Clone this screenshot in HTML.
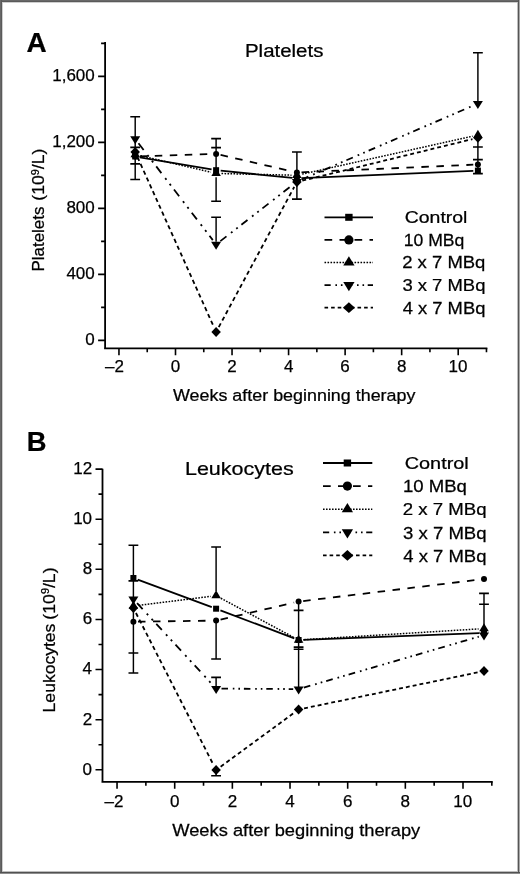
<!DOCTYPE html>
<html><head><meta charset="utf-8"><title>Platelets and Leukocytes</title>
<style>html,body{margin:0;padding:0;background:#fff;}svg{display:block;}</style>
</head><body>
<svg width="520" height="874" viewBox="0 0 520 874" font-family='"Liberation Sans", Arial, Helvetica, sans-serif' fill="#000"><style>text{stroke:#000;stroke-width:0.25px;}</style>
<rect x="0" y="0" width="520" height="874" fill="#fff"/>
<path d="M105.1 42V349.3M104.1 348.3H487.37" fill="none" stroke="#000" stroke-width="1.8"/>
<path d="M98.10 340.40H105.1 M101.10 307.40H105.1 M98.10 274.40H105.1 M101.10 241.40H105.1 M98.10 208.40H105.1 M101.10 175.40H105.1 M98.10 142.40H105.1 M101.10 109.40H105.1 M98.10 76.40H105.1 M101.10 43.40H105.1 M118.96 348.3V355.30 M147.23 348.3V352.30 M175.50 348.3V355.30 M203.77 348.3V352.30 M232.04 348.3V355.30 M260.31 348.3V352.30 M288.58 348.3V355.30 M316.85 348.3V352.30 M345.12 348.3V355.30 M373.39 348.3V352.30 M401.66 348.3V355.30 M429.93 348.3V352.30 M458.20 348.3V355.30 M486.47 348.3V352.30" fill="none" stroke="#000" stroke-width="1.6"/>
<text transform="translate(85.30 345.30) scale(1.0000 1)" font-size="17" text-anchor="start" font-weight="normal">0</text>
<text transform="translate(66.40 279.30) scale(1.0000 1)" font-size="17" text-anchor="start" font-weight="normal">400</text>
<text transform="translate(66.40 213.30) scale(1.0000 1)" font-size="17" text-anchor="start" font-weight="normal">800</text>
<text transform="translate(52.20 147.30) scale(1.0000 1)" font-size="17" text-anchor="start" font-weight="normal">1,200</text>
<text transform="translate(52.20 81.30) scale(1.0000 1)" font-size="17" text-anchor="start" font-weight="normal">1,600</text>
<text transform="translate(105.09 372.30) scale(1.0000 1)" font-size="17" text-anchor="start" font-weight="normal">–2</text>
<text transform="translate(170.78 372.30) scale(1.0000 1)" font-size="17" text-anchor="start" font-weight="normal">0</text>
<text transform="translate(227.31 372.30) scale(1.0000 1)" font-size="17" text-anchor="start" font-weight="normal">2</text>
<text transform="translate(283.90 372.30) scale(1.0000 1)" font-size="17" text-anchor="start" font-weight="normal">4</text>
<text transform="translate(340.35 372.30) scale(1.0000 1)" font-size="17" text-anchor="start" font-weight="normal">6</text>
<text transform="translate(396.93 372.30) scale(1.0000 1)" font-size="17" text-anchor="start" font-weight="normal">8</text>
<text transform="translate(448.43 372.30) scale(1.0000 1)" font-size="17" text-anchor="start" font-weight="normal">10</text>
<text transform="translate(173.04 400.50) scale(1.0855 1)" font-size="16.5" text-anchor="start" font-weight="normal">Weeks after beginning therapy</text>
<text transform="translate(44.40 271.55) rotate(-90) scale(0.9984 1)" font-size="17">Platelets</text>
<text transform="translate(44.40 200.64) rotate(-90) scale(1.0351 1)" font-size="17">(10<tspan font-size="10.5" dy="-5.8">9</tspan><tspan dy="5.8">/L)</tspan></text>
<text transform="translate(26.40 51.50) scale(0.9973 1)" font-size="28" text-anchor="start" font-weight="bold">A</text>
<text transform="translate(244.94 57.40) scale(1.1061 1)" font-size="18.5" text-anchor="start" font-weight="normal">Platelets</text>
<path d="M135.20 116.70V179.50 M216.10 138.60V175.40 M216.10 177.20V201.25 M216.10 217.20V241.80 M296.90 152.00V199.10 M477.90 52.80V101.00 M477.90 140.00V173.60" fill="none" stroke="#000" stroke-width="1.45"/>
<path d="M130.30 116.70H140.10 M130.30 147.40H140.10 M130.30 163.90H140.10 M130.30 179.50H140.10 M211.20 138.60H221.00 M211.20 147.60H221.00 M211.20 201.25H221.00 M211.20 217.20H221.00 M292.00 152.00H301.80 M292.00 199.10H301.80 M473.00 52.80H482.80 M473.00 147.00H482.80 M473.00 159.60H482.80 M473.00 173.60H482.80" fill="none" stroke="#000" stroke-width="1.6"/>
<path d="M139.74 157.27L211.56 169.43" fill="none" stroke="#000" stroke-width="1.8"/>
<path d="M220.68 170.66L292.32 177.94" fill="none" stroke="#000" stroke-width="1.8"/>
<path d="M301.50 178.20L473.30 170.80" fill="none" stroke="#000" stroke-width="1.8"/>
<path d="M139.80 156.35L211.50 154.05" fill="none" stroke="#000" stroke-width="1.8" stroke-dasharray="7.50 7.50" stroke-dashoffset="0.00"/>
<path d="M220.58 154.93L292.42 171.47" fill="none" stroke="#000" stroke-width="1.8" stroke-dasharray="7.50 7.50" stroke-dashoffset="0.00"/>
<path d="M301.50 172.30L473.30 164.70" fill="none" stroke="#000" stroke-width="1.8" stroke-dasharray="7.50 7.50" stroke-dashoffset="0.00"/>
<path d="M140.46 155.73L210.84 172.17" fill="none" stroke="#000" stroke-width="1.5" stroke-dasharray="1.60 1.40" stroke-dashoffset="0.00"/>
<path d="M221.50 173.53L291.50 175.17" fill="none" stroke="#000" stroke-width="1.5" stroke-dasharray="1.60 1.40" stroke-dashoffset="0.00"/>
<path d="M302.17 174.13L472.63 136.17" fill="none" stroke="#000" stroke-width="1.5" stroke-dasharray="1.60 1.40" stroke-dashoffset="0.00"/>
<path d="M138.49 143.28L212.81 240.12" fill="none" stroke="#000" stroke-width="1.8" stroke-dasharray="8.46 6.25 2.08 5.21 2.08 5.08" stroke-dashoffset="0.00"/>
<path d="M220.36 241.09L292.64 184.91" fill="none" stroke="#000" stroke-width="1.8" stroke-dasharray="7.73 5.71 1.90 4.76 1.90 4.64" stroke-dashoffset="0.00"/>
<path d="M301.86 179.46L472.94 105.74" fill="none" stroke="#000" stroke-width="1.8" stroke-dasharray="7.04 5.20 1.73 4.33 1.73 4.22" stroke-dashoffset="0.00"/>
<path d="M137.50 157.11L213.80 326.89" fill="none" stroke="#000" stroke-width="1.8" stroke-dasharray="4.23 3.25" stroke-dashoffset="0.00"/>
<path d="M218.76 327.07L294.24 186.93" fill="none" stroke="#000" stroke-width="1.8" stroke-dasharray="4.21 3.23" stroke-dashoffset="0.00"/>
<path d="M302.34 180.67L472.46 139.13" fill="none" stroke="#000" stroke-width="1.8" stroke-dasharray="3.92 3.02" stroke-dashoffset="0.00"/>
<g fill="#000"><rect x="132.20" y="153.50" width="6.00" height="6.00"/><rect x="213.10" y="167.20" width="6.00" height="6.00"/><rect x="293.90" y="175.40" width="6.00" height="6.00"/><rect x="474.90" y="167.60" width="6.00" height="6.00"/><ellipse cx="135.20" cy="156.50" rx="3.00" ry="3.00"/><ellipse cx="216.10" cy="153.90" rx="3.00" ry="3.00"/><ellipse cx="296.90" cy="172.50" rx="3.00" ry="3.00"/><ellipse cx="477.90" cy="164.50" rx="3.00" ry="3.00"/><path d="M135.20 149.17L139.95 157.17L130.45 157.17Z"/><path d="M216.10 168.07L220.85 176.07L211.35 176.07Z"/><path d="M296.90 169.97L301.65 177.97L292.15 177.97Z"/><path d="M477.90 129.67L482.65 137.67L473.15 137.67Z"/><path d="M135.20 144.33L140.20 136.33L130.20 136.33Z"/><path d="M216.10 249.73L221.10 241.73L211.10 241.73Z"/><path d="M296.90 186.93L301.90 178.93L291.90 178.93Z"/><path d="M477.90 108.93L482.90 100.93L472.90 100.93Z"/><path d="M135.20 147.00L139.95 152.00L135.20 157.00L130.45 152.00Z"/><path d="M216.10 327.00L220.85 332.00L216.10 337.00L211.35 332.00Z"/><path d="M296.90 177.00L301.65 182.00L296.90 187.00L292.15 182.00Z"/><path d="M477.90 132.80L482.65 137.80L477.90 142.80L473.15 137.80Z"/></g>
<path d="M324.5 217.30H373" fill="none" stroke="#000" stroke-width="1.8" />
<g fill="#000"><rect x="345.20" y="213.80" width="7.40" height="7.00"/></g>
<text transform="translate(404.68 223.10) scale(1.1457 1)" font-size="17" text-anchor="start" font-weight="normal">Control</text>
<path d="M324.5 239.90H373" fill="none" stroke="#000" stroke-width="1.8" stroke-dasharray="7.7 7.3"/>
<g fill="#000"><ellipse cx="348.90" cy="239.90" rx="4.60" ry="4.60"/></g>
<text transform="translate(403.75 245.70) scale(1.0356 1)" font-size="17" text-anchor="start" font-weight="normal">10 MBq</text>
<path d="M324.5 262.50H373" fill="none" stroke="#000" stroke-width="1.5" stroke-dasharray="1.6 1.4"/>
<g fill="#000"><path d="M348.90 256.37L354.55 265.57L343.25 265.57Z"/></g>
<text transform="translate(402.17 268.30) scale(1.0885 1)" font-size="17" text-anchor="start" font-weight="normal">2 x 7 MBq</text>
<path d="M324.5 285.10H373" fill="none" stroke="#000" stroke-width="1.8" stroke-dasharray="6.2 4.7 1.6 3.9 1.6 3.6"/>
<g fill="#000"><path d="M348.90 291.37L354.55 281.97L343.25 281.97Z"/></g>
<text transform="translate(402.39 290.90) scale(1.0856 1)" font-size="17" text-anchor="start" font-weight="normal">3 x 7 MBq</text>
<path d="M324.5 307.70H373" fill="none" stroke="#000" stroke-width="1.8" stroke-dasharray="3.6 3"/>
<g fill="#000"><path d="M348.90 302.35L354.90 307.70L348.90 313.05L342.90 307.70Z"/></g>
<text transform="translate(402.67 313.50) scale(1.0819 1)" font-size="17" text-anchor="start" font-weight="normal">4 x 7 MBq</text>
<path d="M102.5 468.75V782.8M101.5 781.8H492.73" fill="none" stroke="#000" stroke-width="1.8"/>
<path d="M95.50 769.80H102.5 M98.50 744.74H102.5 M95.50 719.68H102.5 M98.50 694.62H102.5 M95.50 669.56H102.5 M98.50 644.50H102.5 M95.50 619.44H102.5 M98.50 594.38H102.5 M95.50 569.32H102.5 M98.50 544.26H102.5 M95.50 519.20H102.5 M98.50 494.14H102.5 M95.50 469.08H102.5 M117.04 781.8V788.80 M145.87 781.8V785.80 M174.70 781.8V788.80 M203.53 781.8V785.80 M232.36 781.8V788.80 M261.19 781.8V785.80 M290.02 781.8V788.80 M318.85 781.8V785.80 M347.68 781.8V788.80 M376.51 781.8V785.80 M405.34 781.8V788.80 M434.17 781.8V785.80 M463.00 781.8V788.80 M491.83 781.8V785.80" fill="none" stroke="#000" stroke-width="1.6"/>
<text transform="translate(82.60 774.70) scale(1.0000 1)" font-size="17" text-anchor="start" font-weight="normal">0</text>
<text transform="translate(82.80 724.58) scale(1.0000 1)" font-size="17" text-anchor="start" font-weight="normal">2</text>
<text transform="translate(82.45 674.46) scale(1.0000 1)" font-size="17" text-anchor="start" font-weight="normal">4</text>
<text transform="translate(82.70 624.34) scale(1.0000 1)" font-size="17" text-anchor="start" font-weight="normal">6</text>
<text transform="translate(82.70 574.22) scale(1.0000 1)" font-size="17" text-anchor="start" font-weight="normal">8</text>
<text transform="translate(73.15 524.10) scale(1.0000 1)" font-size="17" text-anchor="start" font-weight="normal">10</text>
<text transform="translate(73.35 473.98) scale(1.0000 1)" font-size="17" text-anchor="start" font-weight="normal">12</text>
<text transform="translate(104.46 806.50) scale(1.0000 1)" font-size="17" text-anchor="start" font-weight="normal">–2</text>
<text transform="translate(169.97 806.50) scale(1.0000 1)" font-size="17" text-anchor="start" font-weight="normal">0</text>
<text transform="translate(227.63 806.50) scale(1.0000 1)" font-size="17" text-anchor="start" font-weight="normal">2</text>
<text transform="translate(285.34 806.50) scale(1.0000 1)" font-size="17" text-anchor="start" font-weight="normal">4</text>
<text transform="translate(342.90 806.50) scale(1.0000 1)" font-size="17" text-anchor="start" font-weight="normal">6</text>
<text transform="translate(400.61 806.50) scale(1.0000 1)" font-size="17" text-anchor="start" font-weight="normal">8</text>
<text transform="translate(453.22 806.50) scale(1.0000 1)" font-size="17" text-anchor="start" font-weight="normal">10</text>
<text transform="translate(172.19 835.80) scale(1.1108 1)" font-size="16.5" text-anchor="start" font-weight="normal">Weeks after beginning therapy</text>
<text transform="translate(54.80 712.39) rotate(-90) scale(1.0338 1)" font-size="17">Leukocytes</text>
<text transform="translate(54.80 619.64) rotate(-90) scale(1.0392 1)" font-size="17">(10<tspan font-size="10.5" dy="-5.8">9</tspan><tspan dy="5.8">/L)</tspan></text>
<text transform="translate(26.69 450.80) scale(0.9766 1)" font-size="28" text-anchor="start" font-weight="bold">B</text>
<text transform="translate(184.96 475.40) scale(1.1624 1)" font-size="18.5" text-anchor="start" font-weight="normal">Leukocytes</text>
<path d="M133.40 545.30V673.00 M216.10 547.00V591.00 M216.10 623.00V659.00 M216.10 677.40V686.00 M216.10 770.00V775.80 M298.60 601.60V687.00 M484.00 593.40V631.00" fill="none" stroke="#000" stroke-width="1.45"/>
<path d="M128.50 545.30H138.30 M128.50 580.90H138.30 M128.50 653.00H138.30 M128.50 673.00H138.30 M211.20 547.00H221.00 M211.20 659.00H221.00 M211.20 677.40H221.00 M211.20 775.80H221.00 M293.70 610.40H303.50 M293.70 647.10H303.50 M293.70 649.30H303.50 M479.10 593.40H488.90 M479.10 604.30H488.90" fill="none" stroke="#000" stroke-width="1.6"/>
<path d="M137.71 579.60L211.79 607.10" fill="none" stroke="#000" stroke-width="1.8"/>
<path d="M220.40 610.33L294.30 638.37" fill="none" stroke="#000" stroke-width="1.8"/>
<path d="M303.20 639.83L479.40 633.17" fill="none" stroke="#000" stroke-width="1.8"/>
<path d="M138.00 621.64L211.50 620.66" fill="none" stroke="#000" stroke-width="1.8" stroke-dasharray="7.50 7.50" stroke-dashoffset="0.00"/>
<path d="M220.58 619.57L294.12 602.63" fill="none" stroke="#000" stroke-width="1.8" stroke-dasharray="7.50 7.50" stroke-dashoffset="0.00"/>
<path d="M303.17 601.04L479.43 579.56" fill="none" stroke="#000" stroke-width="1.8" stroke-dasharray="7.50 7.50" stroke-dashoffset="0.00"/>
<path d="M138.76 605.33L210.74 596.37" fill="none" stroke="#000" stroke-width="1.5" stroke-dasharray="1.60 1.40" stroke-dashoffset="0.00"/>
<path d="M220.86 598.25L293.84 637.45" fill="none" stroke="#000" stroke-width="1.5" stroke-dasharray="1.60 1.40" stroke-dashoffset="0.00"/>
<path d="M303.99 639.67L478.61 628.93" fill="none" stroke="#000" stroke-width="1.5" stroke-dasharray="1.60 1.40" stroke-dashoffset="0.00"/>
<path d="M137.07 603.16L212.43 684.64" fill="none" stroke="#000" stroke-width="1.8" stroke-dasharray="8.21 6.06 2.02 5.05 2.02 4.92" stroke-dashoffset="0.00"/>
<path d="M221.50 688.63L293.20 689.07" fill="none" stroke="#000" stroke-width="1.8" stroke-dasharray="6.50 4.80 1.60 4.00 1.60 3.90" stroke-dashoffset="0.00"/>
<path d="M303.79 687.59L478.81 636.71" fill="none" stroke="#000" stroke-width="1.8" stroke-dasharray="6.77 5.00 1.67 4.17 1.67 4.06" stroke-dashoffset="0.00"/>
<path d="M135.95 612.99L213.55 765.01" fill="none" stroke="#000" stroke-width="1.8" stroke-dasharray="4.21 3.24" stroke-dashoffset="0.00"/>
<path d="M220.62 766.69L294.08 712.81" fill="none" stroke="#000" stroke-width="1.8" stroke-dasharray="4.04 3.11" stroke-dashoffset="0.00"/>
<path d="M304.08 708.36L478.52 672.24" fill="none" stroke="#000" stroke-width="1.8" stroke-dasharray="3.92 3.01" stroke-dashoffset="0.00"/>
<g fill="#000"><rect x="130.40" y="575.00" width="6.00" height="6.00"/><rect x="213.10" y="605.70" width="6.00" height="6.00"/><rect x="295.60" y="637.00" width="6.00" height="6.00"/><rect x="481.00" y="630.00" width="6.00" height="6.00"/><ellipse cx="133.40" cy="621.70" rx="3.00" ry="3.00"/><ellipse cx="216.10" cy="620.60" rx="3.00" ry="3.00"/><ellipse cx="298.60" cy="601.60" rx="3.00" ry="3.00"/><ellipse cx="484.00" cy="579.00" rx="3.00" ry="3.00"/><path d="M133.40 600.67L138.15 608.67L128.65 608.67Z"/><path d="M216.10 590.37L220.85 598.37L211.35 598.37Z"/><path d="M298.60 634.67L303.35 642.67L293.85 642.67Z"/><path d="M484.00 623.27L488.75 631.27L479.25 631.27Z"/><path d="M133.40 604.53L138.40 596.53L128.40 596.53Z"/><path d="M216.10 693.93L221.10 685.93L211.10 685.93Z"/><path d="M298.60 694.43L303.60 686.43L293.60 686.43Z"/><path d="M484.00 640.53L489.00 632.53L479.00 632.53Z"/><path d="M133.40 603.00L138.15 608.00L133.40 613.00L128.65 608.00Z"/><path d="M216.10 765.00L220.85 770.00L216.10 775.00L211.35 770.00Z"/><path d="M298.60 704.50L303.35 709.50L298.60 714.50L293.85 709.50Z"/><path d="M484.00 666.10L488.75 671.10L484.00 676.10L479.25 671.10Z"/></g>
<path d="M323 463.00H372.3" fill="none" stroke="#000" stroke-width="1.8" />
<g fill="#000"><rect x="343.70" y="459.50" width="7.40" height="7.00"/></g>
<text transform="translate(404.71 469.20) scale(1.1693 1)" font-size="17" text-anchor="start" font-weight="normal">Control</text>
<path d="M323 486.10H372.3" fill="none" stroke="#000" stroke-width="1.8" stroke-dasharray="7.7 7.3"/>
<g fill="#000"><ellipse cx="347.40" cy="486.10" rx="4.60" ry="4.60"/></g>
<text transform="translate(402.88 492.30) scale(1.0925 1)" font-size="17" text-anchor="start" font-weight="normal">10 MBq</text>
<path d="M323 509.20H372.3" fill="none" stroke="#000" stroke-width="1.5" stroke-dasharray="1.6 1.4"/>
<g fill="#000"><path d="M347.40 503.07L353.05 512.27L341.75 512.27Z"/></g>
<text transform="translate(402.77 515.40) scale(1.0952 1)" font-size="17" text-anchor="start" font-weight="normal">2 x 7 MBq</text>
<path d="M323 532.30H372.3" fill="none" stroke="#000" stroke-width="1.8" stroke-dasharray="6.2 4.7 1.6 3.9 1.6 3.6"/>
<g fill="#000"><path d="M347.40 538.57L353.05 529.17L341.75 529.17Z"/></g>
<text transform="translate(402.99 538.50) scale(1.0922 1)" font-size="17" text-anchor="start" font-weight="normal">3 x 7 MBq</text>
<path d="M323 555.40H372.3" fill="none" stroke="#000" stroke-width="1.8" stroke-dasharray="3.6 3"/>
<g fill="#000"><path d="M347.40 550.05L353.40 555.40L347.40 560.75L341.40 555.40Z"/></g>
<text transform="translate(403.26 561.60) scale(1.0886 1)" font-size="17" text-anchor="start" font-weight="normal">4 x 7 MBq</text>
<g shape-rendering="crispEdges">
<rect x="0" y="2" width="520" height="1" fill="#cfcfcf"/>
<rect x="2" y="0" width="1" height="874" fill="#cfcfcf"/>
<rect x="517" y="0" width="1" height="874" fill="#bdbdbd"/>
<rect x="0" y="871" width="520" height="1" fill="#bdbdbd"/>
<rect x="0" y="0" width="520" height="1" fill="#686868"/>
<rect x="0" y="1" width="520" height="1" fill="#5a5a5a"/>
<rect x="0" y="0" width="1" height="874" fill="#686868"/>
<rect x="1" y="0" width="1" height="874" fill="#5a5a5a"/>
<rect x="518" y="0" width="1" height="874" fill="#555"/>
<rect x="519" y="0" width="1" height="874" fill="#a8a8a8"/>
<rect x="0" y="872" width="520" height="1" fill="#525252"/>
<rect x="0" y="873" width="520" height="1" fill="#8c8c8c"/>
</g>
</svg>
</body></html>
